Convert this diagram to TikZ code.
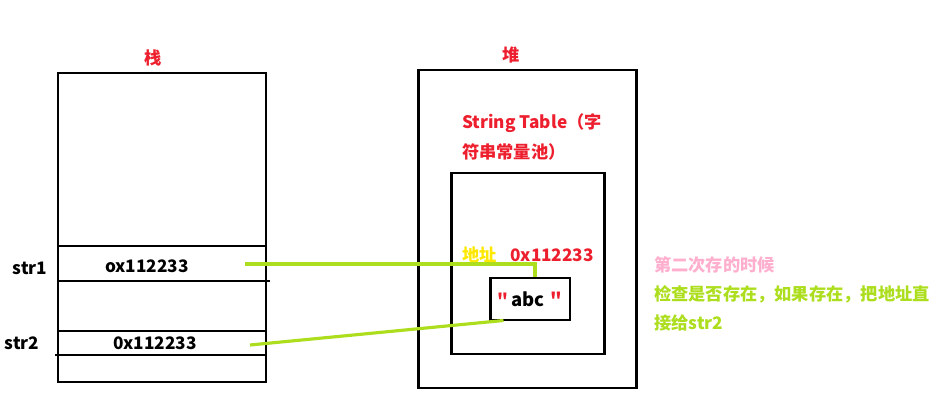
\documentclass[tikz,border=0pt]{standalone}
\usepackage{fontspec}
\setmainfont{Noto Sans CJK SC}
\newfontfamily\plainquote{Noto Sans CJK SC}
\usetikzlibrary{positioning}
\definecolor{tagred}{RGB}{237,30,45}
\definecolor{linkgreen}{RGB}{172,222,30}
\definecolor{addryellow}{RGB}{255,232,0}
\definecolor{notepink}{RGB}{255,175,205}
\newcommand{\redquote}{\textcolor{tagred}{\plainquote\bfseries"}}

\begin{document}
\begin{tikzpicture}[x=0.02cm,y=-0.02cm,font=\bfseries\fontsize{9.8}{12}\selectfont,
  box/.style={draw,line width=1.7pt},
  link/.style={draw=linkgreen,line width=1.8pt}]
  \useasboundingbox (0,0) rectangle (945,411);
  % stack
  \node[text=tagred] (stacktitle) at (153,58) {栈};
  \draw[box] (58,73) rectangle (266,382);
  \draw[line width=1.2pt] (58,246) -- (266,246);
  \draw[line width=1.7pt] (58,281) -- (270,281);
  \draw[line width=1.2pt] (58,331) -- (266,331);
  \draw[line width=1.7pt] (55,355) -- (266,355);
  \node (str1) at (30,268) {str1};
  \node (str2) at (22,343) {str2};
  \node (val1) at (147,266) {ox112233};
  \node (val2) at (155,343) {0x112233};
  % heap
  \node[text=tagred] (heaptitle) at (511,55) {堆};
  \draw[box] (418,70) rectangle (636,388);
  \draw[box] (451,173) rectangle (604,354);
  \node[text=tagred,anchor=west,align=left,font=\bfseries\fontsize{9.8}{17}\selectfont]
    (pool) at (456,137) {String Table（字\\符串常量池）};
  \node[text=addryellow,anchor=west] (addr) at (456,255) {地址};
  \node[text=tagred,anchor=west] (addrval) at (504,255) {0x112233};
  \node[box,minimum width=1.6cm,minimum height=0.84cm,inner sep=0pt] (abc) at (530,299)
    {\redquote\,\fontsize{10.5}{12}\selectfont abc\,\,\redquote};
  % links
  \coordinate (p1) at (245,264);
  \coordinate (p2) at (250,345);
  \draw[link] (p1) -| ([xshift=0.1cm]abc.north);
  \draw[link] (p2) -- ([xshift=0.3cm,yshift=0.02cm]abc.south west);
  % note
  \node[anchor=west,align=left,font=\bfseries\fontsize{9.8}{16.5}\selectfont]
    (note) at (648,294) {\textcolor{notepink}{第二次存的时候}\\
    \textcolor{linkgreen}{检查是否存在，如果存在，把地址直}\\
    \textcolor{linkgreen}{接给str2}};
\end{tikzpicture}
\end{document}
